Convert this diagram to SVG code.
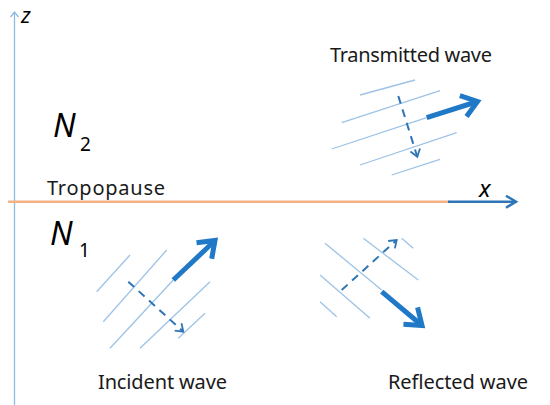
<svg xmlns="http://www.w3.org/2000/svg" width="550" height="405" viewBox="0 0 550 405">
<style>
.lbl{font-family:"Noto Sans","Liberation Sans",sans-serif;font-size:20px;fill:#1a1a1a}
.it{font-family:"Noto Sans","Liberation Sans",sans-serif;font-style:italic;fill:#000}
.sub{font-family:"Noto Sans","Liberation Sans",sans-serif;fill:#000;font-size:19px}
.front{stroke:#9dc3e6;stroke-width:1.3;fill:none}
.thick{stroke:#2079c7;stroke-width:5;fill:none;marker-end:url(#bigHead)}
.dash{stroke:#2e75b6;stroke-width:2;stroke-dasharray:8 6;fill:none;marker-end:url(#smallHead)}
</style>
<defs>
<marker id="bigHead" markerUnits="userSpaceOnUse" orient="auto" overflow="visible" refX="0" refY="0" markerWidth="1" markerHeight="1">
<path d="M-15,-11 L0,0 L-15,11" fill="none" stroke="#2079c7" stroke-width="5" stroke-linejoin="miter"/>
</marker>
<marker id="smallHead" markerUnits="userSpaceOnUse" orient="auto" overflow="visible" refX="0" refY="0" markerWidth="1" markerHeight="1">
<path d="M-7,-5 L0,0 L-7,5" fill="none" stroke="#2e75b6" stroke-width="1.8"/>
</marker>
<marker id="axHeadX" markerUnits="userSpaceOnUse" orient="auto" overflow="visible" refX="0" refY="0" markerWidth="1" markerHeight="1">
<path d="M-10,-6 L0,0 L-10,6" fill="none" stroke="#2e75b6" stroke-width="2.5"/>
</marker>
<marker id="axHeadZ" markerUnits="userSpaceOnUse" orient="auto" overflow="visible" refX="0" refY="0" markerWidth="1" markerHeight="1">
<path d="M-5,-4 L0,0 L-5,4" fill="none" stroke="#8fb8e3" stroke-width="1.3"/>
</marker>
</defs>
<rect width="550" height="405" fill="#fff"/>
<g id="axes">
<line x1="14.5" y1="405" x2="14.5" y2="12" stroke="#8fb8e3" stroke-width="1.3" marker-end="url(#axHeadZ)"/>
<line x1="8" y1="201.7" x2="449" y2="201.7" stroke="#f4b183" stroke-width="2.6"/>
<line x1="448" y1="201.7" x2="516" y2="201.7" stroke="#2e75b6" stroke-width="2.6" marker-end="url(#axHeadX)"/>
<text class="it" x="21" y="23" font-size="22">z</text>
<text class="it" x="479" y="197" font-size="24">x</text>
</g>
<g id="labels">
<text class="lbl" x="330" y="62" textLength="162">Transmitted wave</text>
<text class="lbl" x="47" y="195" textLength="118">Tropopause</text>
<text class="lbl" x="98" y="389" textLength="129">Incident wave</text>
<text class="lbl" x="388" y="389" textLength="140">Reflected wave</text>
<text class="it" x="53" y="137" font-size="32">N</text>
<text class="sub" x="80" y="151">2</text>
<text class="it" x="50" y="245" font-size="32">N</text>
<text class="sub" x="79" y="257">1</text>
</g>
<g id="incident">
<line class="front" x1="96.7" y1="291.7" x2="130" y2="255"/>
<line class="front" x1="103.3" y1="321.7" x2="166.7" y2="250"/>
<line class="front" x1="110" y1="348.3" x2="173.3" y2="280"/>
<line class="front" x1="140" y1="348.3" x2="210" y2="281.7"/>
<line class="front" x1="178.3" y1="338.3" x2="205" y2="313.3"/>
<line class="thick" x1="173.3" y1="280" x2="215" y2="240.5"/>
<line class="dash" x1="128.3" y1="281.7" x2="183.3" y2="331.7"/>
</g>
<g id="reflected">
<line class="front" x1="325" y1="243.3" x2="381.7" y2="290"/>
<line class="front" x1="363.3" y1="238.3" x2="418.3" y2="280"/>
<line class="front" x1="320" y1="275" x2="370" y2="318.3"/>
<line class="front" x1="320" y1="301.7" x2="336.7" y2="316.7"/>
<line class="front" x1="401.7" y1="238.3" x2="413.3" y2="248.3"/>
<line class="thick" x1="381.7" y1="291.7" x2="422" y2="325.5"/>
<line class="dash" x1="341.7" y1="290" x2="396.7" y2="240"/>
</g>
<g id="transmitted">
<line class="front" x1="360" y1="95" x2="415" y2="80"/>
<line class="front" x1="341.7" y1="122.7" x2="440" y2="90.7"/>
<line class="front" x1="331.7" y1="149" x2="426.7" y2="117.7"/>
<line class="front" x1="360" y1="165" x2="456.7" y2="132.7"/>
<line class="front" x1="391.7" y1="175" x2="440" y2="159.3"/>
<line class="thick" x1="426.7" y1="117.7" x2="477.5" y2="101.5"/>
<line class="dash" x1="398.3" y1="96" x2="417.3" y2="156.7"/>
</g>
</svg>
